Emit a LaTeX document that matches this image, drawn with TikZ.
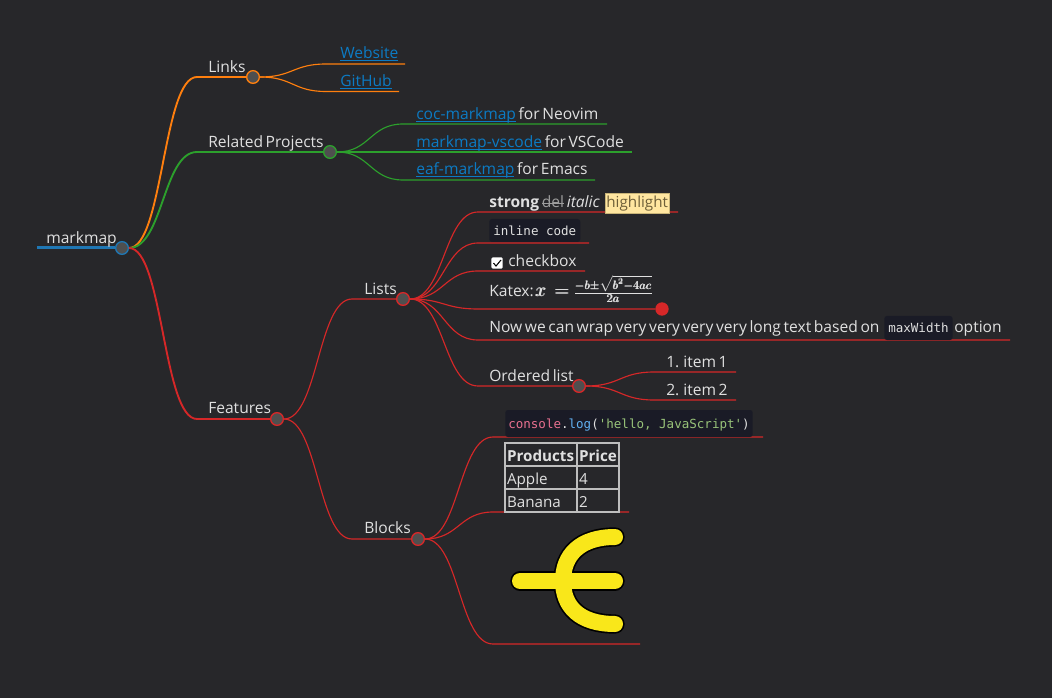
\documentclass[tikz,border=0pt]{standalone}
\usepackage{amsmath, amssymb}
\usepackage{fontspec}
\usetikzlibrary{calc,positioning}
\setmainfont[WordSpace=0.65]{Open Sans}
\newfontfamily\codefont{DejaVu Sans Mono}

\definecolor{pagebg}{HTML}{27272A}
\definecolor{labeltext}{HTML}{E0E0E0}
\definecolor{linktext}{HTML}{0C7BC4}
\definecolor{codebg}{HTML}{1A1B26}
\definecolor{dotfill}{HTML}{4F4F4F}
\definecolor{bluelink}{HTML}{1F77B4}
\definecolor{orangelink}{HTML}{FF7F0E}
\definecolor{greenlink}{HTML}{2CA02C}
\definecolor{redlink}{HTML}{D62728}
\definecolor{markyellow}{HTML}{F9E71A}
\definecolor{markbg}{HTML}{FFE6A0}
\definecolor{markline}{HTML}{C8B478}
\definecolor{marktext}{HTML}{6E5F38}

\newcommand{\weblink}[1]{\textcolor{linktext}{\sbox0{#1}\rlap{\rule[-1.3pt]{\wd0}{0.65pt}}#1}}
\newcommand{\struck}[1]{\sbox0{#1}\rlap{\rule[0.28em]{\wd0}{0.6pt}}#1}

\tikzset{
  label/.style={anchor=base west, inner sep=0pt, yshift=-0.75pt, text=labeltext, font=\fontsize{11.7}{14}\selectfont},
  codebox/.style={anchor=base west, fill=codebg, rounded corners=2pt, text=labeltext, inner sep=0pt, font=\codefont\fontsize{9.4}{11}\selectfont},
  dot/.style={circle, draw=#1, fill=dotfill, line width=1pt, inner sep=0pt, minimum size=9.5pt},
  branch/.style={to path={.. controls ($(\tikztostart)!.5!(\tikztotarget |- \tikztostart)$) and ($(\tikztotarget)!.5!(\tikztostart |- \tikztotarget)$) .. (\tikztotarget)}},
  wide/.style={line width=1.4pt, draw=#1},
  thin link/.style={line width=.85pt, draw=#1},
  cell/.style={draw=labeltext!85!black, line width=.85pt, inner sep=1.5pt, text=labeltext, minimum height=17.25pt, text height=11.5pt, text depth=1.7pt, align=left, font=\fontsize{11.4}{14}\selectfont},
}

\begin{document}
\begin{tikzpicture}[x=0.75pt, y=-0.75pt]

\fill[pagebg] (0,0) rectangle (1052,698);
\useasboundingbox (0,0) rectangle (1052,698);

% Puntos de cada rama
\node[dot=bluelink] (dRoot) at (122,248) {};
\node[dot=orangelink] (dLinks) at (253,77) {};
\node[dot=greenlink] (dRelated) at (330,152) {};
\node[dot=redlink] (dFeatures) at (277,419) {};
\node[dot=redlink] (dLists) at (403,299) {};
\node[dot=redlink] (dBlocks) at (418,539) {};
\node[dot=redlink] (dOrdered) at (579,386) {};
\node[circle, fill=redlink, inner sep=0pt, minimum size=10pt] (dKatex) at (662,309) {};

% Puntos de paso y extremos
\coordinate (rootStart) at (37,248);
\coordinate (inLinks) at (197,77);
\coordinate (inRelated) at (197,152);
\coordinate (inFeatures) at (197,419);
\coordinate (inLists) at (352,299);
\coordinate (inBlocks) at (352,539);
\coordinate (inWebsite) at (326,64);
\coordinate (endWebsite) at (405,64);
\coordinate (inGithub) at (326,91.5);
\coordinate (endGithub) at (399,91.5);
\coordinate (inCoc) at (403,124);
\coordinate (endCoc) at (607,124);
\coordinate (inVscode) at (403,152);
\coordinate (endVscode) at (632,152);
\coordinate (inEaf) at (403,180);
\coordinate (endEaf) at (595,180);
\coordinate (inStrong) at (478,212);
\coordinate (endStrong) at (678,212);
\coordinate (inInline) at (478,243);
\coordinate (endInline) at (589,243);
\coordinate (inCheck) at (478,271);
\coordinate (endCheck) at (585,271);
\coordinate (inKatex) at (478,309);
\coordinate (inWrap) at (478,340);
\coordinate (endWrap) at (1010,340);
\coordinate (inOrdered) at (478,386);
\coordinate (inItemA) at (654,372);
\coordinate (endItemA) at (736,372);
\coordinate (inItemB) at (654,400);
\coordinate (endItemB) at (736,400);
\coordinate (inConsole) at (493,437);
\coordinate (endConsole) at (763,437);
\coordinate (inTable) at (493,512);
\coordinate (endTable) at (629,512);
\coordinate (inImage) at (493,644);
\coordinate (endImage) at (640,644);

% Ramas
\draw[line width=2.25pt, bluelink] (rootStart) -- (dRoot.west);
\draw[wide=orangelink] (dRoot.east) to[branch] (inLinks) -- (dLinks.west);
\draw[wide=greenlink] (dRoot.east) to[branch] (inRelated) -- (dRelated.west);
\draw[wide=redlink] (dRoot.east) to[branch] (inFeatures) -- (dFeatures.west);
\draw[thin link=orangelink] (dLinks.east) to[branch] (inWebsite) -- (endWebsite);
\draw[thin link=orangelink] (dLinks.east) to[branch] (inGithub) -- (endGithub);
\draw[thin link=greenlink] (dRelated.east) to[branch] (inCoc) -- (endCoc);
\draw[thin link=greenlink] (dRelated.east) to[branch] (inVscode) -- (endVscode);
\draw[thin link=greenlink] (dRelated.east) to[branch] (inEaf) -- (endEaf);
\draw[thin link=redlink] (dFeatures.east) to[branch] (inLists) -- (dLists.west);
\draw[thin link=redlink] (dFeatures.east) to[branch] (inBlocks) -- (dBlocks.west);
\draw[thin link=redlink] (dLists.east) to[branch] (inStrong) -- (endStrong);
\draw[thin link=redlink] (dLists.east) to[branch] (inInline) -- (endInline);
\draw[thin link=redlink] (dLists.east) to[branch] (inCheck) -- (endCheck);
\draw[thin link=redlink] (dLists.east) to[branch] (inKatex) -- (dKatex.west);
\draw[thin link=redlink] (dLists.east) to[branch] (inWrap) -- (endWrap);
\draw[thin link=redlink] (dLists.east) to[branch] (inOrdered) -- (dOrdered.west);
\draw[thin link=redlink] (dOrdered.east) to[branch] (inItemA) -- (endItemA);
\draw[thin link=redlink] (dOrdered.east) to[branch] (inItemB) -- (endItemB);
\draw[thin link=redlink] (dBlocks.east) to[branch] (inConsole) -- (endConsole);
\draw[thin link=redlink] (dBlocks.east) to[branch] (inTable) -- (endTable);
\draw[thin link=redlink] (dBlocks.east) to[branch] (inImage) -- (endImage);

% Textos
\node[label] (tRoot) at (46,243) {markmap};
\node[label] (tLinks) at (208,72) {Links};
\node[label] (tRelated) at (208,147) {Related Projects};
\node[label] (tFeatures) at (208,412) {Features};
\node[label] (tLists) at (364,294) {Lists};
\node[label] (tBlocks) at (364,532) {Blocks};
\node[label] (tWebsite) at (340,58) {\weblink{Website}};
\node[label] (tGithub) at (340,86) {\weblink{GitHub}};
\node[label] (tCoc) at (416,119) {\weblink{coc-markmap} for Neovim};
\node[label] (tVscode) at (416,147) {\weblink{markmap-vscode} for VSCode};
\node[label] (tEaf) at (416,174) {\weblink{eaf-markmap} for Emacs};
\node[label] (tStrong) at (489,207) {\textbf{strong} \textcolor{labeltext!70!black}{\struck{del}} \textit{italic}};
\node[fill=markbg, draw=markline, line width=.5pt, anchor=base west, inner sep=.8pt, yshift=-0.75pt, font=\fontsize{11.4}{14}\selectfont, text=marktext, text height=10pt, text depth=3.5pt] (tHighlight) at (605,207) {highlight};
\node[codebox, inner xsep=3pt, text height=12.75pt, text depth=4.5pt] (tInline) at (489,236) {inline code};
\node[label] (tCheck) at (508,266) {checkbox};
\node[fill=white, rounded corners=1pt, inner sep=0pt, minimum size=8.5pt] (boxCheck) at (497,263) {};
\draw[black, line width=.8pt] (493.5,263) -- (496,266) -- (501,260);
\node[label] (tKatex) at (489,296) {Katex:\hspace{1.5pt}{\fontsize{15}{16}\selectfont$\pmb{x}\,\pmb{=}$}\hspace{3pt}{\fontsize{12.6}{14}\selectfont$\frac{\pmb{-b\pm}\sqrt{\pmb{b^2-4ac}}}{\pmb{2a}}$}};
\node[label] (tWrap) at (489,332) {Now we can wrap very very very very long text based on};
\node[codebox, inner xsep=3pt, text height=12.75pt, text depth=5.25pt] (tMax) at (884,333) {maxWidth};
\node[label] (tOption) at (954,332) {option};
\node[label] (tOrdered) at (489,380) {Ordered list};
\node[label] (tItemA) at (666,367) {1. item 1};
\node[label] (tItemB) at (666,394) {2. item 2};
\node[codebox, inner xsep=2.25pt, text height=13.5pt, text depth=6.75pt] (tConsole) at (505,428) {\textcolor[HTML]{E8708F}{console}.\textcolor[HTML]{61AFEF}{log}(\textcolor[HTML]{98C379}{'hello, JavaScript'})};

% Tabla
\node[cell, text width=51pt] (cProducts) at (541,454.5) {\textbf{Products}};
\node[cell, text width=28.5pt] (cPrice) at (598,454.5) {\textbf{Price}};
\node[cell, text width=51pt] (cApple) at (541,477.5) {Apple};
\node[cell, text width=28.5pt] (cFour) at (598,477.5) {4};
\node[cell, text width=51pt] (cBanana) at (541,500.5) {Banana};
\node[cell, text width=28.5pt] (cTwo) at (598,500.5) {2};

% Imagen amarilla
\draw[black, line width=14.5pt, line cap=round] (615,537) .. controls (580,537) and (563,555) .. (563,581) .. controls (563,607) and (580,624) .. (615,624);
\draw[black, line width=14.5pt, line cap=round] (520,581) -- (615,581);
\draw[markyellow, line width=12pt, line cap=round] (615,537) .. controls (580,537) and (563,555) .. (563,581) .. controls (563,607) and (580,624) .. (615,624);
\draw[markyellow, line width=12pt, line cap=round] (520,581) -- (615,581);

\end{tikzpicture}
\end{document}
